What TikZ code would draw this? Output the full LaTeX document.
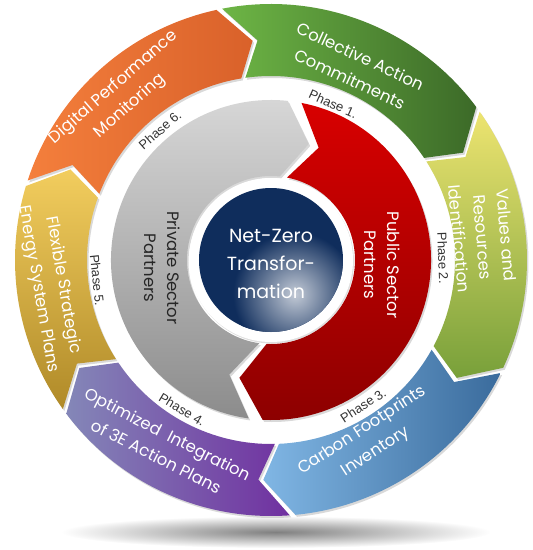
\documentclass[tikz,border=0pt]{standalone}
\usepackage{fontspec}
\setmainfont{Poppins}
\newfontfamily\phasefont{Liberation Sans}
\usetikzlibrary{shadows}

\definecolor{orangeA}{HTML}{F47F3C}
\definecolor{orangeB}{HTML}{D9612A}
\definecolor{greenA}{HTML}{6DB545}
\definecolor{greenB}{HTML}{3C6A28}
\definecolor{limeA}{HTML}{EDE470}
\definecolor{limeB}{HTML}{78A03A}
\definecolor{blueA}{HTML}{80B6E4}
\definecolor{blueB}{HTML}{3A6B9C}
\definecolor{purpleA}{HTML}{8487B8}
\definecolor{purpleB}{HTML}{7030A0}
\definecolor{goldA}{HTML}{F2CD5E}
\definecolor{goldB}{HTML}{B08A28}
\definecolor{redA}{HTML}{D80000}
\definecolor{redB}{HTML}{8C0000}
\definecolor{greyA}{HTML}{D8D8D8}
\definecolor{greyB}{HTML}{8C8C8C}
\definecolor{navy}{HTML}{0F2D5C}

% outer band piece: style, start angle, end angle (clockwise)
\newcommand{\chevseg}[3]{%
  \path[#1] ({#2+1.5}:256pt) arc[start angle={#2+1.5}, end angle={#3+1.5}, radius=256pt]
    -- ({#3-6}:220pt) -- ({#3-1.5}:184pt)
    arc[start angle={#3-1.5}, end angle={#2-1.5}, radius=184pt]
    -- ({#2-6}:220pt) -- cycle;}
% inner arrow band
\newcommand{\innerband}[3]{%
  \path[#1] (#2:160pt) arc[start angle=#2, end angle=#3, radius=160pt]
    -- ({#3-12}:122pt) -- (#3:84pt)
    arc[start angle=#3, end angle=#2, radius=84pt]
    -- ({#2-12}:122pt) -- cycle;}

\begin{document}
\begin{tikzpicture}[x=1pt, y=1pt,
    seglabel/.style={text=white, align=center, font=\fontsize{16.5}{25}\selectfont},
    phaselabel/.style={text=black!80, font=\phasefont\fontsize{13}{15}\selectfont},
    partnerlabel/.style={align=center, font=\fontsize{16.5}{23}\selectfont},
    segshadow/.style={drop shadow={shadow xshift=1.5pt, shadow yshift=-2pt, opacity=0.3}}]

  \useasboundingbox (-271,-290) rectangle (262,260);

  % shadow on the ground
  \shade[inner color=black!50, outer color=white] (5,-272) ellipse (215 and 16);

  % outer ring
  \chevseg{segshadow, left color=greenA, right color=greenB}{99.5}{35.2}
  \chevseg{segshadow, top color=limeA, bottom color=limeB}{33.9}{-26.4}
  \chevseg{segshadow, left color=blueA, right color=blueB}{-27.7}{-86}
  \chevseg{segshadow, left color=purpleA, right color=purpleB}{-87.3}{-144.6}
  \chevseg{segshadow, top color=goldA, bottom color=goldB}{214.1}{161.7}
  \chevseg{segshadow, left color=orangeA, right color=orangeB}{160.4}{100.8}

  % inner arrows
  \innerband{segshadow, top color=greyA, bottom color=greyB}{262}{84}
  \innerband{segshadow, top color=redA, bottom color=redB}{79}{-93}

  % centre
  \fill[white, drop shadow={shadow xshift=1pt, shadow yshift=-1.5pt, opacity=0.25}] (0,0) circle [radius=82];
  \fill[navy] (0,0) circle [radius=72];
  \begin{scope}
    \clip (0,0) circle [radius=72];
    \shade[inner color=white!75!navy, outer color=navy] (24,-34) circle [radius=62];
  \end{scope}
  \node[text=white, align=center, font=\fontsize{19}{28}\selectfont] (netzero) at (0,-4) {Net-Zero\\Transfor-\\mation};

  % outer labels
  \node[seglabel, rotate=-25] (lblone) at (66.4:210) {Collective Action\\Commitments};
  \node[seglabel, rotate=-85, font=\fontsize{16.5}{23.5}\selectfont] (lbltwo) at (6.2:213) {Values and\\Resources\\Identification};
  \node[seglabel, rotate=33] (lblthree) at (-61.6:206) {Carbon Footprints\\Inventory};
  \node[seglabel, rotate=-27] (lblfour) at (239.5:215) {Optimized\ \ Integration\\of 3E Action Plans};
  \node[seglabel, rotate=-80] (lblfive) at (187:222) {Flexible Strategic\\Energy System Plans};
  \node[seglabel, rotate=41] (lblsix) at (132.4:221) {Digital Performance\\Monitoring};

  % phase labels
  \node[phaselabel, rotate=-24] (phone) at (68.3:168) {Phase 1.};
  \node[phaselabel, rotate=-88] (phtwo) at (0.7:172) {Phase 2.};
  \node[phaselabel, rotate=33] (phthree) at (-57.6:172) {Phase 3.};
  \node[phaselabel, rotate=-31] (phfour) at (-120.7:174) {Phase 4.};
  \node[phaselabel, rotate=-84] (phfive) at (186.6:175) {Phase 5.};
  \node[phaselabel, rotate=41] (phsix) at (130.5:171) {Phase 6.};

  % partners
  \node[partnerlabel, text=white, rotate=-90] (public) at (-2.6:111) {Public Sector\\Partners};
  \node[partnerlabel, text=black!85, rotate=-90] (private) at (184.2:109) {Private Sector\\Partners};
\end{tikzpicture}
\end{document}
